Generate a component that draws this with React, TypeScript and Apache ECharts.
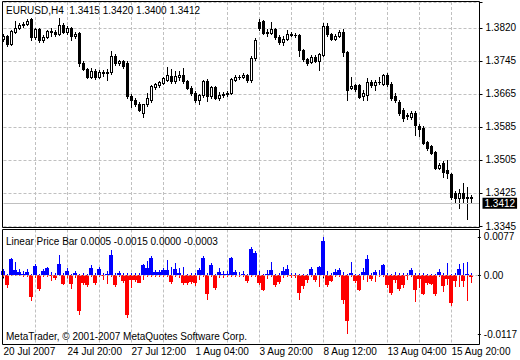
import React, { useEffect, useRef } from "react";
import * as echarts from "echarts";

// ---- data (EURUSD H4) ----
const OPEN = [
  1.3798, 1.3806, 1.3786, 1.3815, 1.3825, 1.3832, 1.3835, 1.3847, 1.3803, 1.3822,
  1.3795, 1.3804, 1.3818, 1.3816, 1.3810, 1.3833, 1.3816, 1.3824, 1.3806, 1.3812,
  1.3741, 1.3726, 1.3707, 1.3721, 1.3706, 1.3718, 1.3716, 1.3718, 1.3758, 1.3739,
  1.3744, 1.3740, 1.3660, 1.3650, 1.3640, 1.3619, 1.3640, 1.3650, 1.3682, 1.3686,
  1.3692, 1.3700, 1.3709, 1.3696, 1.3706, 1.3711, 1.3696, 1.3680, 1.3667, 1.3651,
  1.3662, 1.3697, 1.3660, 1.3681, 1.3656, 1.3662, 1.3664, 1.3667, 1.3700, 1.3706,
  1.3707, 1.3710, 1.3699, 1.3752, 1.3840, 1.3842, 1.3813, 1.3813, 1.3822, 1.3803,
  1.3790, 1.3798, 1.3811, 1.3809, 1.3807, 1.3772, 1.3750, 1.3743, 1.3755, 1.3746,
  1.3760, 1.3829, 1.3810, 1.3799, 1.3806, 1.3816, 1.3767, 1.3680, 1.3687, 1.3687,
  1.3660, 1.3663, 1.3695, 1.3688, 1.3694, 1.3690, 1.3710, 1.3690, 1.3660, 1.3646,
  1.3626, 1.3614, 1.3609, 1.3619, 1.3588, 1.3583, 1.3549, 1.3539, 1.3524, 1.3486,
  1.3498, 1.3481, 1.3471, 1.3425, 1.3413, 1.3425, 1.3413, 1.3415,
];
const HIGH = [
  1.3811, 1.3808, 1.3820, 1.3842, 1.3837, 1.3840, 1.3847, 1.3849, 1.3825, 1.3825,
  1.3808, 1.3820, 1.3825, 1.3820, 1.3850, 1.3837, 1.3830, 1.3827, 1.3815, 1.3815,
  1.3745, 1.3729, 1.3728, 1.3725, 1.3722, 1.3723, 1.3725, 1.3769, 1.3762, 1.3748,
  1.3748, 1.3744, 1.3665, 1.3655, 1.3645, 1.3641, 1.3668, 1.3688, 1.3692, 1.3696,
  1.3706, 1.3730, 1.3726, 1.3721, 1.3720, 1.3728, 1.3699, 1.3684, 1.3672, 1.3666,
  1.3700, 1.3701, 1.3684, 1.3684, 1.3670, 1.3670, 1.3672, 1.3704, 1.3710, 1.3712,
  1.3716, 1.3713, 1.3756, 1.3801, 1.3848, 1.3844, 1.3823, 1.3840, 1.3825, 1.3808,
  1.3806, 1.3819, 1.3815, 1.3813, 1.3810, 1.3775, 1.3753, 1.3759, 1.3759, 1.3765,
  1.3837, 1.3838, 1.3814, 1.3811, 1.3820, 1.3823, 1.3770, 1.3706, 1.3690, 1.3690,
  1.3675, 1.3703, 1.3699, 1.3699, 1.3705, 1.3713, 1.3715, 1.3693, 1.3667, 1.3651,
  1.3630, 1.3619, 1.3624, 1.3624, 1.3592, 1.3588, 1.3551, 1.3542, 1.3527, 1.3498,
  1.3503, 1.3505, 1.3474, 1.3430, 1.3435, 1.3449, 1.3440, 1.3420,
];
const LOW = [
  1.3794, 1.3781, 1.3784, 1.3813, 1.3823, 1.3828, 1.3832, 1.3795, 1.3798, 1.3791,
  1.3791, 1.3801, 1.3806, 1.3806, 1.3808, 1.3813, 1.3811, 1.3796, 1.3801, 1.3733,
  1.3722, 1.3703, 1.3703, 1.3702, 1.3703, 1.3708, 1.3699, 1.3714, 1.3735, 1.3735,
  1.3728, 1.3655, 1.3634, 1.3636, 1.3624, 1.3609, 1.3636, 1.3646, 1.3678, 1.3683,
  1.3689, 1.3696, 1.3692, 1.3692, 1.3700, 1.3692, 1.3677, 1.3663, 1.3646, 1.3641,
  1.3658, 1.3648, 1.3656, 1.3652, 1.3651, 1.3657, 1.3660, 1.3664, 1.3697, 1.3702,
  1.3703, 1.3694, 1.3695, 1.3748, 1.3820, 1.3810, 1.3806, 1.3810, 1.3799, 1.3786,
  1.3784, 1.3795, 1.3805, 1.3803, 1.3758, 1.3745, 1.3735, 1.3740, 1.3742, 1.3723,
  1.3756, 1.3806, 1.3796, 1.3795, 1.3802, 1.3758, 1.3650, 1.3676, 1.3672, 1.3655,
  1.3650, 1.3650, 1.3683, 1.3675, 1.3690, 1.3686, 1.3685, 1.3650, 1.3645, 1.3614,
  1.3600, 1.3605, 1.3605, 1.3566, 1.3563, 1.3543, 1.3530, 1.3519, 1.3483, 1.3483,
  1.3464, 1.3462, 1.3410, 1.3401, 1.3389, 1.3401, 1.3362, 1.3400,
];
const CLOSE = [
  1.3806, 1.3786, 1.3818, 1.3825, 1.3832, 1.3835, 1.3842, 1.3803, 1.3822, 1.3795,
  1.3804, 1.3818, 1.3816, 1.3810, 1.3833, 1.3816, 1.3824, 1.3806, 1.3810, 1.3741,
  1.3726, 1.3707, 1.3721, 1.3706, 1.3718, 1.3716, 1.3718, 1.3758, 1.3739, 1.3744,
  1.3732, 1.3660, 1.3650, 1.3640, 1.3625, 1.3640, 1.3655, 1.3685, 1.3689, 1.3693,
  1.3703, 1.3710, 1.3696, 1.3709, 1.3711, 1.3696, 1.3680, 1.3667, 1.3651, 1.3662,
  1.3697, 1.3660, 1.3681, 1.3656, 1.3662, 1.3664, 1.3667, 1.3702, 1.3706, 1.3707,
  1.3710, 1.3699, 1.3752, 1.3796, 1.3825, 1.3813, 1.3815, 1.3823, 1.3803, 1.3790,
  1.3798, 1.3811, 1.3809, 1.3807, 1.3772, 1.3750, 1.3740, 1.3755, 1.3746, 1.3762,
  1.3829, 1.3810, 1.3799, 1.3806, 1.3816, 1.3767, 1.3675, 1.3685, 1.3676, 1.3658,
  1.3667, 1.3695, 1.3688, 1.3694, 1.3695, 1.3710, 1.3690, 1.3655, 1.3650, 1.3619,
  1.3607, 1.3612, 1.3619, 1.3590, 1.3580, 1.3546, 1.3534, 1.3522, 1.3486, 1.3493,
  1.3476, 1.3474, 1.3415, 1.3413, 1.3425, 1.3413, 1.3415, 1.3412,
];

const SYMBOL_TITLE = "EURUSD,H4  1.3415 1.3420 1.3400 1.3412";
const INDICATOR_TITLE = "Linear Price Bar 0.0005 -0.0015 0.0000 -0.0003";
const COPYRIGHT = "MetaTrader, \u00A9 2001-2007 MetaQuotes Software Corp.";

const PRICE_TICK_START = 1.3345;
const PRICE_TICK_STEP = 0.008;
const PRICE_LABELS = ["1.3345", "1.3425", "1.3505", "1.3585", "1.3665", "1.3745", "1.3820"];
const PRICE_TOP = 1.3888;
const LAST_PRICE = 1.3412;
const IND_LABEL_MAX = 0.0077;
const IND_LABEL_MIN = -0.0117;

const FIRST_BAR_UTC = Date.UTC(2007, 6, 20, 4, 0);
const BAR_HOURS = 4;
const SLOTS = 120;
const LABEL_EVERY = 16;
const GRID_EVERY = 8;
const MONTHS = ["Jan", "Feb", "Mar", "Apr", "May", "Jun", "Jul", "Aug", "Sep", "Oct", "Nov", "Dec"];

// ---- layout ----
const FONT = "'Liberation Sans', Arial, sans-serif";
const FS = 10;
const PLOT_LEFT = 3.5;
const PLOT_WIDTH = 476;
const MAIN_TOP = 2;
const MAIN_BOTTOM = 226;
const IND_TOP = 229.5;
const IND_BOTTOM = 344.5;
const IND_LABEL_TOP = 236.9;
const IND_LABEL_BOTTOM = 334;
const GRID_COLOR = "#c0c0c0";
const BLUE = "#0000ff";
const RED = "#ff0000";

function barTimes(count: number): number[] {
  const out: number[] = [];
  let t = FIRST_BAR_UTC;
  while (out.length < count) {
    const wd = new Date(t).getUTCDay();
    if (wd !== 0 && wd !== 6) out.push(t);
    t += BAR_HOURS * 3600 * 1000;
  }
  return out;
}
const pad2 = (n: number) => (n < 10 ? "0" + n : "" + n);
function timeLabel(t: number, first: boolean): string {
  const d = new Date(t);
  const head = d.getUTCDate() + " " + MONTHS[d.getUTCMonth()];
  return first ? head + " " + d.getUTCFullYear() : head + " " + pad2(d.getUTCHours()) + ":" + pad2(d.getUTCMinutes());
}

function candleItem(params: any, api: any) {
  const k = api.value(0);
  const o = api.value(1), h = api.value(2), l = api.value(3), c = api.value(4);
  const x = api.coord([k, o])[0];
  const yo = Math.round(api.coord([k, o])[1]);
  const yc = Math.round(api.coord([k, c])[1]);
  const yh = Math.round(api.coord([k, h])[1]);
  const yl = Math.round(api.coord([k, l])[1]);
  const left = Math.round(x - 1.5);
  const top = Math.min(yo, yc);
  const bh = Math.abs(yo - yc) + 1;
  const children: any[] = [
    { type: "rect", shape: { x: left + 1, y: yh, width: 1, height: Math.max(1, yl - yh + 1) }, style: { fill: "#000" } },
    { type: "rect", shape: { x: left, y: top, width: 3, height: bh }, style: { fill: "#000" } },
  ];
  if (c > o && bh > 2) {
    children.push({ type: "rect", shape: { x: left + 1, y: top + 1, width: 1, height: bh - 2 }, style: { fill: "#fff" } });
  }
  return { type: "group", children };
}

function indicatorItem(params: any, api: any) {
  const k = api.value(0);
  const d = api.value(1), up = api.value(2), dn = api.value(3);
  const p0 = api.coord([k, 0]);
  const col = Math.round(p0[0] - 0.5);
  const y0 = Math.round(p0[1]);
  const yd = Math.round(api.coord([k, d])[1]);
  const yu = Math.round(api.coord([k, up])[1]);
  const yn = Math.round(api.coord([k, dn])[1]);
  const children: any[] = [];
  if (yu < y0) children.push({ type: "rect", shape: { x: col, y: yu, width: 1, height: y0 - yu }, style: { fill: BLUE } });
  if (yn > y0) children.push({ type: "rect", shape: { x: col, y: y0, width: 1, height: yn - y0 }, style: { fill: RED } });
  if (yd < y0) children.push({ type: "rect", shape: { x: col - 2, y: yd, width: 4, height: y0 - yd }, style: { fill: BLUE } });
  if (yd > y0) children.push({ type: "rect", shape: { x: col - 2, y: y0, width: 4, height: yd - y0 }, style: { fill: RED } });
  return { type: "group", children };
}

export default function App() {
  const ref = useRef<HTMLDivElement>(null);
  useEffect(() => {
    document.body.style.margin = "0";
    if (!ref.current) return;
    const chart = echarts.init(ref.current, undefined, { renderer: "svg" });

    const times = barTimes(SLOTS);
    const cats = times.map((t) => String(t));
    const labelInterval = (i: number) => i % LABEL_EVERY === 0 && i < OPEN.length;
    const gridInterval = (i: number) => i > 0 && i % GRID_EVERY === 0;

    const candles = OPEN.map((o, k) => [k, o, HIGH[k], LOW[k], CLOSE[k]]);
    const indicator = OPEN.map((o, k) => [
      k,
      +(CLOSE[k] - o).toFixed(4),
      +(HIGH[k] - o).toFixed(4),
      +(LOW[k] - o).toFixed(4),
    ]);

    const unitPerPx = (IND_LABEL_MAX - IND_LABEL_MIN) / (IND_LABEL_BOTTOM - IND_LABEL_TOP);
    const indMax = IND_LABEL_MAX + (IND_LABEL_TOP - IND_TOP) * unitPerPx;
    const indMin = IND_LABEL_MIN - (IND_BOTTOM - IND_LABEL_BOTTOM) * unitPerPx;

    const dashed = { color: GRID_COLOR, width: 1, type: [3, 2] as any };
    const labelText = { color: "#000", fontSize: FS, fontFamily: FONT };

    const option: any = {
      animation: false,
      backgroundColor: "#ffffff",
      textStyle: { fontFamily: FONT },
      grid: [
        { left: PLOT_LEFT, top: MAIN_TOP, width: PLOT_WIDTH, height: MAIN_BOTTOM - MAIN_TOP },
        { left: PLOT_LEFT, top: IND_TOP, width: PLOT_WIDTH, height: IND_BOTTOM - IND_TOP },
        { left: PLOT_LEFT, top: IND_LABEL_TOP, width: PLOT_WIDTH, height: IND_LABEL_BOTTOM - IND_LABEL_TOP },
      ],
      xAxis: [
        {
          gridIndex: 0, type: "category", data: cats, boundaryGap: false,
          axisLine: { show: false }, axisTick: { show: false }, axisLabel: { show: false },
          splitLine: { show: true, interval: gridInterval, lineStyle: dashed },
        },
        {
          gridIndex: 1, type: "category", data: cats, boundaryGap: false,
          axisLine: { show: false },
          axisTick: { show: true, interval: labelInterval, length: 3, lineStyle: { color: "#000" } },
          axisLabel: {
            show: true, interval: labelInterval, align: "left", margin: 2, ...labelText,
            formatter: (v: string, i: number) => timeLabel(Number(v), i === 0),
          },
          splitLine: { show: true, interval: gridInterval, lineStyle: dashed },
        },
        { gridIndex: 2, type: "category", data: cats, boundaryGap: false, show: false },
      ],
      yAxis: [
        {
          gridIndex: 0, type: "value", position: "right",
          min: PRICE_TICK_START, max: PRICE_TOP, interval: PRICE_TICK_STEP,
          axisLine: { show: false },
          axisTick: { show: true, length: 3, lineStyle: { color: "#000" } },
          axisLabel: {
            margin: 6, ...labelText,
            formatter: (v: number) => {
              const idx = Math.round((v - PRICE_TICK_START) / PRICE_TICK_STEP);
              const exact = Math.abs(v - (PRICE_TICK_START + idx * PRICE_TICK_STEP)) < 1e-6;
              return exact && PRICE_LABELS[idx] ? PRICE_LABELS[idx] : "";
            },
          },
          splitLine: { show: true, lineStyle: dashed },
        },
        { gridIndex: 1, type: "value", min: indMin, max: indMax, show: false, splitLine: { show: false } },
        {
          gridIndex: 2, type: "value", position: "right",
          min: IND_LABEL_MIN, max: IND_LABEL_MAX, interval: -IND_LABEL_MIN,
          axisLine: { show: false },
          axisTick: { show: true, length: 3, lineStyle: { color: "#000" } },
          axisLabel: {
            margin: 6, ...labelText,
            formatter: (v: number) => (Math.abs(v) < 1e-9 ? "0.00" : v.toFixed(4)),
          },
          splitLine: { show: false },
        },
      ],
      series: [
        {
          type: "custom", name: "EURUSD,H4", xAxisIndex: 0, yAxisIndex: 0,
          data: candles, encode: { x: 0, y: [1, 2, 3, 4] }, renderItem: candleItem, z: 3,
          markLine: {
            silent: true, symbol: ["none", "none"], animation: false,
            lineStyle: { color: GRID_COLOR, type: "solid", width: 1 },
            label: {
              show: true, position: "end", distance: 3, formatter: LAST_PRICE.toFixed(4),
              color: "#fff", backgroundColor: "#000", padding: [1, 2, 0, 2], fontSize: FS, fontFamily: FONT,
            },
            data: [{ yAxis: LAST_PRICE }],
          },
        },
        {
          type: "custom", name: "Linear Price Bar", xAxisIndex: 1, yAxisIndex: 1,
          data: indicator, encode: { x: 0, y: [1, 2, 3] }, renderItem: indicatorItem, z: 3,
          markLine: {
            silent: true, symbol: ["none", "none"], animation: false,
            lineStyle: { color: GRID_COLOR, type: [2, 2], width: 1 },
            label: { show: false },
            data: [{ yAxis: 0 }],
          },
        },
      ],
      graphic: [
        { type: "rect", silent: true, z: 10, shape: { x: 2.5, y: 1.5, width: 477, height: 226 }, style: { fill: "none", stroke: "#000", lineWidth: 1 } },
        { type: "rect", silent: true, z: 10, shape: { x: 2.5, y: IND_TOP, width: 477, height: IND_BOTTOM - IND_TOP }, style: { fill: "none", stroke: "#000", lineWidth: 1 } },
        { type: "text", silent: true, z: 10, x: 6, y: 10, style: { text: SYMBOL_TITLE, fill: "#000", fontSize: FS, fontFamily: FONT, verticalAlign: "middle" } },
        { type: "text", silent: true, z: 10, x: 6, y: 241.5, style: { text: INDICATOR_TITLE, fill: "#000", fontSize: FS, fontFamily: FONT, verticalAlign: "middle" } },
        { type: "text", silent: true, z: 10, x: 6, y: 336.5, style: { text: COPYRIGHT, fill: "#000", fontSize: FS, fontFamily: FONT, verticalAlign: "middle" } },
      ],
    };
    chart.setOption(option);
    return () => chart.dispose();
  }, []);
  return <div ref={ref} style={{ width: 520, height: 360 }} />;
}
